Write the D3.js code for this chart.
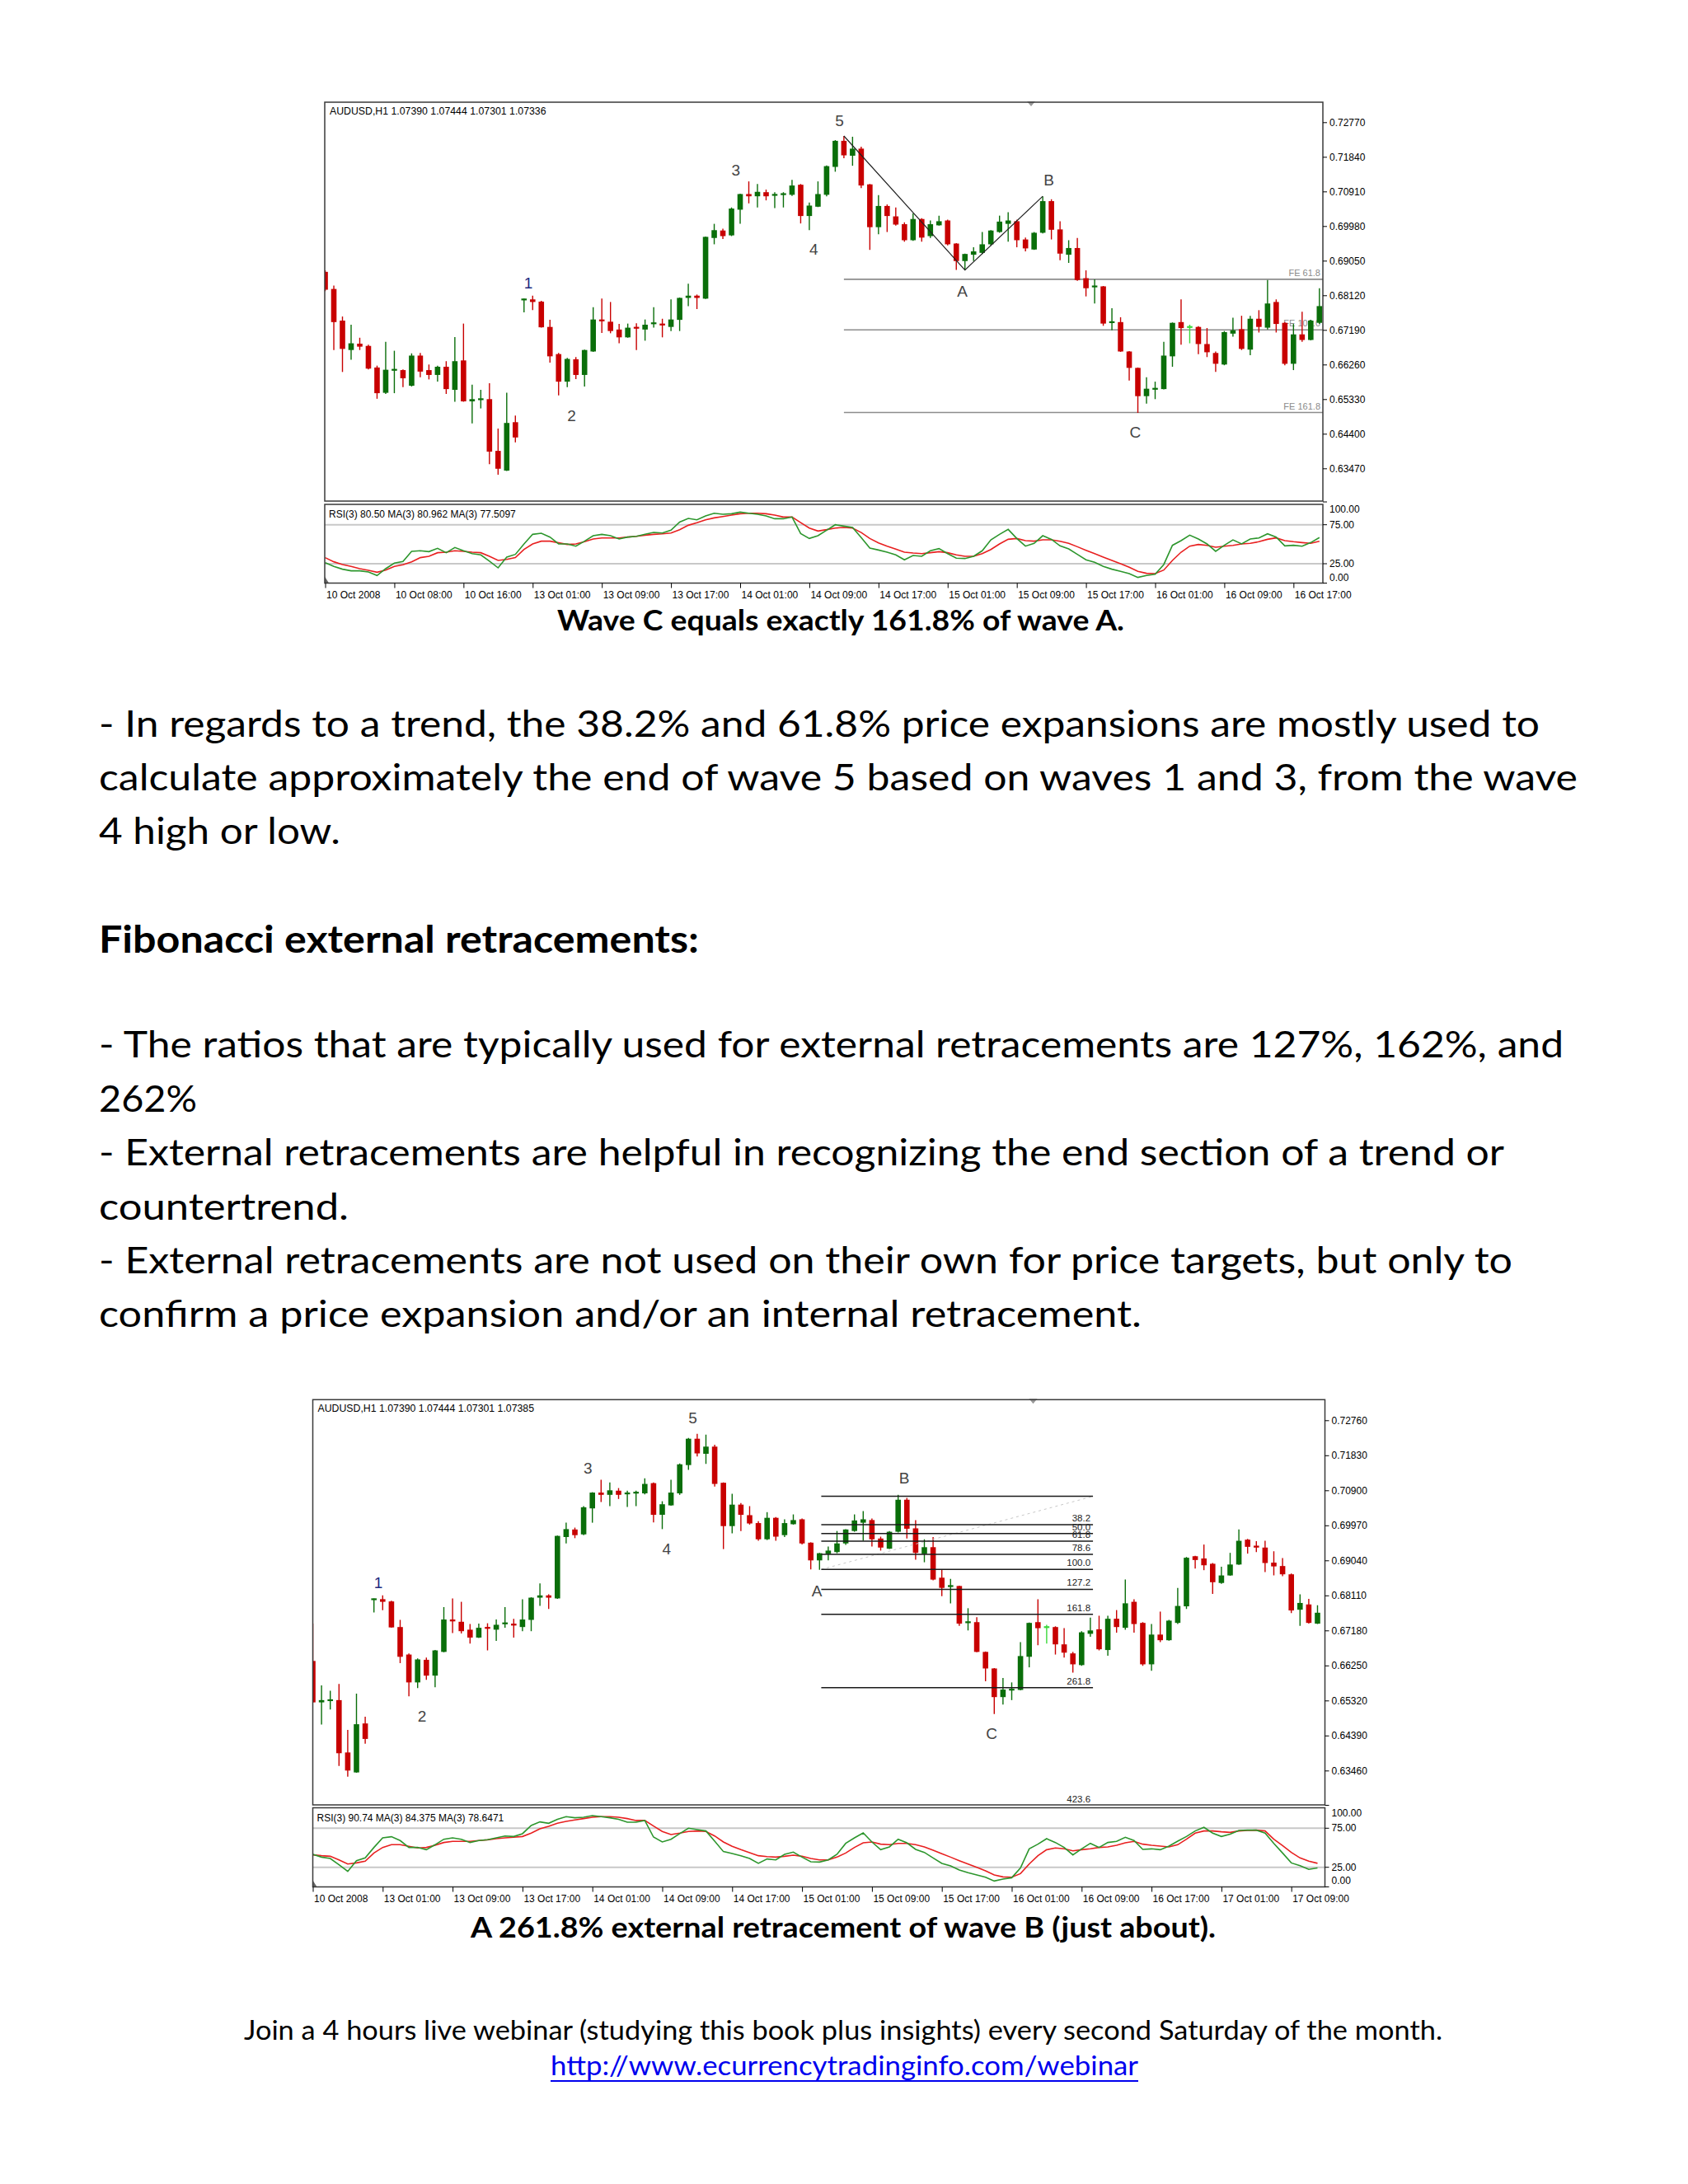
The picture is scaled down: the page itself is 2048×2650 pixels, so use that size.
<!DOCTYPE html>
<html><head><meta charset="utf-8">
<script src="https://cdn.jsdelivr.net/npm/d3@7"></script>
<style>html,body{margin:0;padding:0;background:#fff}svg{display:block}</style>
</head><body>
<svg id="page" width="2048" height="2650" xmlns="http://www.w3.org/2000/svg"></svg>
<script>
// ---------------- DATA (AUDUSD H1, bar index 0 = 10 Oct 2008 00:00) ----------------
const barOpen = [
0.6875,0.6829,0.6744,0.6665,0.6682,0.6676,0.6618,0.6550,0.6609,0.6611,
0.6569,0.6650,0.6611,0.6598,0.6620,0.6558,0.6637,0.6527,0.6530,0.6533,
0.6394,0.6341,0.6471,0.6797,0.6801,0.6795,0.6727,0.6654,0.6580,0.6640,
0.6598,0.6661,0.6747,0.6741,0.6720,0.6699,0.6725,0.6720,0.6734,0.6736,
0.6727,0.6746,0.6805,0.6811,0.6803,0.6966,0.6986,0.6973,0.7042,0.7084,
0.7078,0.7089,0.7079,0.7081,0.7082,0.7109,0.7025,0.7050,0.7082,0.7157,
0.7227,0.7187,0.7206,0.7110,0.6995,0.7052,0.7024,0.7003,0.6960,0.7017,
0.6971,0.7000,0.7013,0.6951,0.6904,0.6921,0.6926,0.6949,0.6982,0.7004,
0.7011,0.6962,0.6935,0.6980,0.7065,0.6989,0.6921,0.6939,0.6858,0.6832,
0.6836,0.6738,0.6740,0.6661,0.6617,0.6541,0.6558,0.6560,0.6648,0.6740,
0.6725,0.6727,0.6681,0.6657,0.6626,0.6709,0.6721,0.6666,0.6749,0.6725,
0.6794,0.6738,0.6628,0.6707,0.6692,0.6738,0.6782,0.6915,0.6909,0.6895,
0.6844,0.6864,0.6893,0.6959,0.6943,0.6938,0.6898,0.6889,0.6867,0.6773,0.6787,0.6736];
const barHigh = [
0.6879,0.6838,0.6755,0.6733,0.6698,0.6679,0.6623,0.6687,0.6663,0.6613,
0.6656,0.6657,0.6626,0.6623,0.6635,0.6700,0.6736,0.6572,0.6558,0.6576,
0.6454,0.6550,0.6489,0.6803,0.6811,0.6797,0.6746,0.6657,0.6644,0.6646,
0.6666,0.6780,0.6803,0.6794,0.6735,0.6736,0.6737,0.6747,0.6780,0.6749,
0.6801,0.6806,0.6843,0.6814,0.6970,0.7004,0.6991,0.7048,0.7085,0.7118,
0.7111,0.7096,0.7089,0.7089,0.7122,0.7111,0.7061,0.7118,0.7161,0.7229,
0.7240,0.7238,0.7211,0.7111,0.7081,0.7056,0.7048,0.7008,0.7032,0.7019,
0.7013,0.7026,0.7015,0.6952,0.6924,0.6941,0.6982,0.6987,0.7026,0.7035,
0.7015,0.6967,0.6982,0.7078,0.7070,0.7011,0.6960,0.6966,0.6879,0.6855,
0.6837,0.6777,0.6753,0.6662,0.6618,0.6592,0.6580,0.6687,0.6739,0.6801,
0.6733,0.6729,0.6724,0.6661,0.6716,0.6752,0.6757,0.6757,0.6772,0.6853,
0.6801,0.6740,0.6735,0.6768,0.6746,0.6831,0.6913,0.6916,0.6946,0.6897,
0.6887,0.6924,0.6986,0.6961,0.6955,0.6956,0.6928,0.6910,0.6869,0.6814,0.6802,0.6785];
const barLow = [
0.6823,0.6665,0.6606,0.6639,0.6665,0.6613,0.6534,0.6547,0.6549,0.6565,
0.6567,0.6592,0.6586,0.6580,0.6547,0.6526,0.6526,0.6468,0.6508,0.6358,
0.6330,0.6340,0.6417,0.6766,0.6772,0.6725,0.6631,0.6543,0.6565,0.6587,
0.6567,0.6660,0.6711,0.6710,0.6683,0.6698,0.6665,0.6690,0.6725,0.6699,
0.6716,0.6716,0.6783,0.6775,0.6802,0.6949,0.6963,0.6971,0.7004,0.7059,
0.7048,0.7067,0.7046,0.7048,0.7079,0.7005,0.6987,0.7049,0.7078,0.7144,
0.7180,0.7160,0.7100,0.6934,0.6976,0.6982,0.6999,0.6956,0.6958,0.6956,
0.6966,0.6999,0.6946,0.6880,0.6879,0.6904,0.6923,0.6945,0.6980,0.6956,
0.6941,0.6930,0.6934,0.6978,0.6962,0.6906,0.6899,0.6851,0.6809,0.6790,
0.6730,0.6718,0.6660,0.6583,0.6496,0.6521,0.6533,0.6559,0.6620,0.6679,
0.6683,0.6654,0.6646,0.6606,0.6624,0.6701,0.6665,0.6651,0.6712,0.6720,
0.6712,0.6624,0.6611,0.6687,0.6691,0.6735,0.6775,0.6882,0.6878,0.6815,
0.6842,0.6863,0.6892,0.6922,0.6926,0.6873,0.6864,0.6862,0.6764,0.6730,0.6736,0.6735];
const barClose = [
0.6827,0.6740,0.6668,0.6683,0.6674,0.6615,0.6549,0.6612,0.6612,0.6589,
0.6650,0.6607,0.6598,0.6620,0.6560,0.6635,0.6527,0.6533,0.6533,0.6392,
0.6346,0.6469,0.6430,0.6801,0.6794,0.6726,0.6648,0.6580,0.6641,0.6598,
0.6665,0.6747,0.6742,0.6716,0.6699,0.6725,0.6722,0.6733,0.6737,0.6731,
0.6747,0.6805,0.6811,0.6805,0.6969,0.6987,0.6971,0.7045,0.7084,0.7078,
0.7090,0.7078,0.7082,0.7084,0.7107,0.7025,0.7053,0.7084,0.7159,0.7227,
0.7188,0.7206,0.7107,0.6995,0.7052,0.7025,0.7002,0.6960,0.7017,0.6967,
0.7003,0.7011,0.6949,0.6904,0.6923,0.6930,0.6949,0.6986,0.7010,0.7013,
0.6960,0.6938,0.6980,0.7065,0.6988,0.6924,0.6939,0.6853,0.6831,0.6836,
0.6736,0.6740,0.6661,0.6617,0.6541,0.6561,0.6561,0.6650,0.6738,0.6724,
0.6727,0.6681,0.6659,0.6628,0.6713,0.6718,0.6668,0.6749,0.6727,0.6790,
0.6735,0.6628,0.6707,0.6692,0.6744,0.6783,0.6911,0.6905,0.6891,0.6846,
0.6864,0.6893,0.6956,0.6940,0.6938,0.6897,0.6888,0.6867,0.6771,0.6791,0.6738,0.6765];
const highlightBars = [100];

const rsiValues = [
26.4,21.5,18.0,15.9,15.9,14.5,9.9,18.7,25.7,27.8,
40.9,41.6,40.5,44.7,39.1,45.8,41.6,38.0,36.3,28.2,
19.7,33.5,37.0,50.4,62.7,64.1,59.2,50.4,50.4,47.5,
53.9,60.9,62.7,60.9,56.7,59.2,60.2,62.7,65.1,64.4,
68.0,78.5,83.1,81.3,86.3,89.8,88.4,89.1,91.2,89.8,
88.4,86.3,82.7,82.7,84.9,63.7,57.4,60.9,68.0,75.0,
73.2,71.5,58.5,45.1,42.6,39.8,36.3,30.0,35.6,34.5,
41.6,44.4,38.0,32.1,31.7,34.5,41.6,55.6,62.7,69.0,
57.4,47.5,51.1,60.9,56.3,47.9,44.0,37.0,30.0,26.8,
21.5,18.0,15.2,12.3,7.4,9.9,11.6,24.0,48.6,54.6,
61.6,56.7,50.4,40.9,48.6,55.6,50.4,56.7,58.1,63.4,
59.2,47.9,48.6,47.5,52.1,58.5,64.4,71.5,76.1,68.7,
64.4,67.3,72.2,72.5,72.5,68.7,55.6,43.3,30.6,27.0,22.4,24.2];
const rsiMA = [
32.8,27.5,24.0,21.5,18.7,16.6,14.1,16.9,21.5,23.6,
27.5,32.8,34.5,39.1,39.8,41.6,40.9,39.8,39.1,34.5,
29.2,30.6,32.8,43.3,50.4,53.9,53.9,51.8,49.7,50.4,
53.2,56.7,58.1,58.1,58.1,59.2,60.2,61.6,62.7,63.4,
64.4,68.7,74.3,77.5,81.3,83.8,85.6,87.3,89.1,89.8,
89.8,89.1,87.3,84.9,84.9,77.8,70.8,66.9,68.7,70.8,
71.5,70.8,65.1,57.4,51.8,47.5,43.7,39.8,38.7,38.0,
39.1,40.5,39.1,36.3,34.5,34.5,38.0,43.3,50.4,56.3,
57.4,54.6,53.9,55.6,55.6,53.9,51.1,46.8,42.3,38.0,
33.5,29.2,25.0,20.4,15.2,12.7,12.3,16.9,29.2,39.8,
47.5,49.7,48.6,46.1,47.5,48.6,50.4,51.1,53.2,56.3,
58.1,54.6,53.2,52.1,51.1,53.9,61.0,68.7,71.5,71.5,
70.4,69.7,71.5,72.2,72.5,71.5,60.9,52.8,44.0,37.0,32.8,30.1];

const waveLabels = ["1","2","3","4","5","A","B","C"];
const waveLabelBar = [23.5, 28.5, 47.5, 56.5, 59.5, 73.7, 83.7, 93.7];
const waveLabelPrice = [0.6845, 0.6489, 0.7148, 0.6935, 0.7282, 0.6822, 0.7122, 0.6444];

const zigzagBar = [60, 74, 83];
const zigzagPrice = [0.7240, 0.6880, 0.7078];

const feLabels = ["FE 61.8", "FE 100.0", "FE 161.8"];
const fePrices = [0.6855, 0.6719, 0.6497];
const feStartBar = 60;

const fibLabels = ["", "38.2", "50.0", "61.8", "78.6", "100.0", "127.2", "161.8", "261.8", "423.6"];
const fibPrices = [0.7074, 0.6999, 0.6975, 0.6955, 0.6920, 0.6880, 0.6827, 0.6761, 0.6566, 0.6252];
const fibStartBar = 74.2, fibEndBar = 105.3;
const fibTrendBar = [74.2, 105.3];
const fibTrendPrice = [0.6880, 0.7074];

const chart1PriceTicks = [0.72770,0.71840,0.70910,0.69980,0.69050,0.68120,0.67190,0.66260,0.65330,0.64400,0.63470];
const chart2PriceTicks = [0.72760,0.71830,0.70900,0.69970,0.69040,0.68110,0.67180,0.66250,0.65320,0.64390,0.63460];
const rsiLevels = [75, 25];
const rsiTickValues = [100, 75, 25, 0];
const chart1TimeBars = [0,8,16,24,32,40,48,56,64,72,80,88,96,104,112];
const chart1TimeLabels = ["10 Oct 2008","10 Oct 08:00","10 Oct 16:00","13 Oct 01:00","13 Oct 09:00","13 Oct 17:00","14 Oct 01:00","14 Oct 09:00","14 Oct 17:00","15 Oct 01:00","15 Oct 09:00","15 Oct 17:00","16 Oct 01:00","16 Oct 09:00","16 Oct 17:00"];
const chart2TimeBars = [16,24,32,40,48,56,64,72,80,88,96,104,112,120,128];
const chart2TimeLabels = ["10 Oct 2008","13 Oct 01:00","13 Oct 09:00","13 Oct 17:00","14 Oct 01:00","14 Oct 09:00","14 Oct 17:00","15 Oct 01:00","15 Oct 09:00","15 Oct 17:00","16 Oct 01:00","16 Oct 09:00","16 Oct 17:00","17 Oct 01:00","17 Oct 09:00"];

const chart1Header = "AUDUSD,H1  1.07390 1.07444 1.07301 1.07336";
const chart1RsiHeader = "RSI(3) 80.50 MA(3) 80.962 MA(3) 77.5097";
const chart2Header = "AUDUSD,H1  1.07390 1.07444 1.07301 1.07385";
const chart2RsiHeader = "RSI(3) 90.74 MA(3) 84.375 MA(3) 78.6471";

// ---------------- DRAWING ----------------
const svg = d3.select("#page");
svg.append("rect").attr("width", 2048).attr("height", 2650).attr("fill", "#fff");
const defs = svg.append("defs");
const CF = "'Liberation Sans', Arial, sans-serif";
const GREEN = "#0a6e0a", RED = "#c80000", LIME = "#3ad83a";

function drawChart(cfg) {
  const x = d3.scaleLinear().domain(cfg.xDomain).range([cfg.left, cfg.right]);
  const y = d3.scaleLinear().domain(cfg.yDomain).range([cfg.mainBottom, cfg.mainTop]);
  const r = d3.scaleLinear().domain([0, 100]).range([cfg.rsiZero, cfg.rsiHundred]);
  const idx = d3.range(cfg.first, cfg.last + 1);
  const g = svg.append("g");

  defs.append("clipPath").attr("id", cfg.id + "m").append("rect")
    .attr("x", cfg.left).attr("y", cfg.mainTop).attr("width", cfg.right - cfg.left).attr("height", cfg.mainBottom - cfg.mainTop);
  defs.append("clipPath").attr("id", cfg.id + "r").append("rect")
    .attr("x", cfg.left).attr("y", cfg.rsiTop).attr("width", cfg.right - cfg.left).attr("height", cfg.rsiBottom - cfg.rsiTop);

  const main = g.append("g").attr("clip-path", `url(#${cfg.id}m)`);
  const col = i => highlightBars.includes(i) ? LIME : (barClose[i] >= barOpen[i] ? GREEN : RED);

  if (cfg.fe) {
    main.selectAll("line.fe").data(fePrices).join("line")
      .attr("x1", x(feStartBar)).attr("x2", cfg.right)
      .attr("y1", d => y(d)).attr("y2", d => y(d))
      .attr("stroke", "#8c8c8c").attr("stroke-width", 1.6);
    main.selectAll("text.fe").data(fePrices).join("text")
      .attr("x", cfg.right - 3).attr("y", d => y(d) - 4)
      .attr("text-anchor", "end").attr("font-family", CF).attr("font-size", 11).attr("fill", "#8a8a8a")
      .text((d, k) => feLabels[k]);
  }

  const cg = main.selectAll("g.c").data(idx).join("g");
  cg.append("line")
    .attr("x1", i => x(i)).attr("x2", i => x(i))
    .attr("y1", i => y(barHigh[i])).attr("y2", i => y(barLow[i]))
    .attr("stroke", col).attr("stroke-width", 1.4);
  cg.append("rect")
    .attr("x", i => x(i) - 3.3).attr("width", 6.6)
    .attr("y", i => Math.min(y(barOpen[i]), y(barClose[i])) - (Math.abs(y(barOpen[i]) - y(barClose[i])) < 2 ? 1 : 0))
    .attr("height", i => Math.max(2.2, Math.abs(y(barOpen[i]) - y(barClose[i]))))
    .attr("fill", col);

  if (cfg.zigzag) {
    main.append("path")
      .attr("d", d3.line().x((d, k) => x(zigzagBar[k])).y(d => y(d))(zigzagPrice))
      .attr("fill", "none").attr("stroke", "#222").attr("stroke-width", 1.2);
  }

  if (cfg.fib) {
    main.append("path")
      .attr("d", d3.line().x((d, k) => x(fibTrendBar[k])).y(d => y(d))(fibTrendPrice))
      .attr("fill", "none").attr("stroke", "#c8c8c8").attr("stroke-width", 1).attr("stroke-dasharray", "3,4");
    main.selectAll("line.fib").data(fibPrices).join("line")
      .attr("x1", x(fibStartBar)).attr("x2", x(fibEndBar))
      .attr("y1", d => y(d)).attr("y2", d => y(d))
      .attr("stroke", "#1a1a1a").attr("stroke-width", 1.5);
    main.selectAll("text.fib").data(fibPrices).join("text")
      .attr("x", x(fibEndBar) - 3).attr("y", d => y(d) - 4)
      .attr("text-anchor", "end").attr("font-family", CF).attr("font-size", 11.5).attr("fill", "#222")
      .text((d, k) => fibLabels[k]);
  }

  main.selectAll("text.w").data(waveLabels).join("text")
    .attr("x", (d, k) => x(waveLabelBar[k])).attr("y", (d, k) => y(waveLabelPrice[k]))
    .attr("text-anchor", "middle").attr("dominant-baseline", "central")
    .attr("font-family", CF).attr("font-size", 19)
    .attr("fill", d => d === "1" ? "#1f2a80" : "#444")
    .text(d => d);

  g.append("text").attr("x", cfg.left + 6).attr("y", cfg.mainTop + 14.5)
    .attr("font-family", CF).attr("font-size", 12.3).attr("fill", "#000").text(cfg.header);

  const sx = cfg.right - 354;
  g.append("path").attr("d", `M${sx - 5},${cfg.mainTop - 1}L${sx + 5},${cfg.mainTop - 1}L${sx},${cfg.mainTop + 5}Z`).attr("fill", "#999");

  g.append("rect").attr("x", cfg.left).attr("y", cfg.mainTop).attr("width", cfg.right - cfg.left).attr("height", cfg.mainBottom - cfg.mainTop)
    .attr("fill", "none").attr("stroke", "#3a3a3a").attr("stroke-width", 1.5);

  const ya = g.append("g").attr("transform", `translate(${cfg.right},0)`)
    .call(d3.axisRight(y).tickValues(cfg.priceTicks).tickFormat(d3.format(".5f")).tickSize(5).tickPadding(3));
  ya.select(".domain").remove();
  ya.selectAll("text").attr("font-family", CF).attr("font-size", 12).attr("fill", "#000");
  ya.selectAll("line").attr("stroke", "#000");

  const rg = g.append("g").attr("clip-path", `url(#${cfg.id}r)`);
  rg.selectAll("line.lv").data(rsiLevels).join("line")
    .attr("x1", cfg.left).attr("x2", cfg.right).attr("y1", d => r(d)).attr("y2", d => r(d))
    .attr("stroke", "#c8c8c8").attr("stroke-width", 2);
  rg.append("path").attr("d", d3.line().x(i => x(i)).y(i => r(rsiMA[i]))(idx))
    .attr("fill", "none").attr("stroke", "#e82020").attr("stroke-width", 1.6);
  rg.append("path").attr("d", d3.line().x(i => x(i)).y(i => r(rsiValues[i]))(idx))
    .attr("fill", "none").attr("stroke", "#2d962d").attr("stroke-width", 1.6);
  g.append("text").attr("x", cfg.left + 5).attr("y", cfg.rsiTop + 16)
    .attr("font-family", CF).attr("font-size", 12).attr("fill", "#000").text(cfg.rsiHeader);
  g.append("path").attr("d", `M${cfg.left},${cfg.rsiBottom - 8}L${cfg.left + 5},${cfg.rsiBottom}L${cfg.left},${cfg.rsiBottom}Z`).attr("fill", "#666");
  g.append("rect").attr("x", cfg.left).attr("y", cfg.rsiTop).attr("width", cfg.right - cfg.left).attr("height", cfg.rsiBottom - cfg.rsiTop)
    .attr("fill", "none").attr("stroke", "#3a3a3a").attr("stroke-width", 1.5);

  const ra = g.append("g").attr("transform", `translate(${cfg.right},0)`);
  ra.selectAll("line").data(rsiTickValues.filter(v => v === 75 || v === 25)).join("line")
    .attr("x1", 0).attr("x2", 5).attr("y1", d => r(d)).attr("y2", d => r(d)).attr("stroke", "#000");
  ra.append("line").attr("x1", 0).attr("x2", 5).attr("y1", cfg.rsiTop - 3).attr("y2", cfg.rsiTop - 3).attr("stroke", "#000");
  ra.append("line").attr("x1", 0).attr("x2", 5).attr("y1", cfg.rsiBottom).attr("y2", cfg.rsiBottom).attr("stroke", "#000");
  ra.selectAll("text").data(rsiTickValues).join("text")
    .attr("x", 8).attr("y", d => d === 100 ? r(d) + 5 : d === 0 ? r(d) - 7 : r(d))
    .attr("dominant-baseline", "central")
    .attr("font-family", CF).attr("font-size", 12).attr("fill", "#000")
    .text(d => d3.format(".2f")(d));

  const xa = g.append("g").attr("transform", `translate(0,${cfg.rsiBottom})`)
    .call(d3.axisBottom(x).tickValues(cfg.timeBars).tickFormat((d, k) => cfg.timeLabels[k]).tickSize(6).tickPadding(4));
  xa.select(".domain").remove();
  xa.selectAll("line").attr("stroke", "#000");
  xa.selectAll("text").attr("text-anchor", "start").attr("dx", 1).attr("font-family", CF).attr("font-size", 12).attr("fill", "#000");
}

drawChart({
  id: "c1", left: 394, right: 1605, mainTop: 124, mainBottom: 608, rsiTop: 612, rsiBottom: 707.5,
  xDomain: [-0.05, 115.4], yDomain: [0.62591, 0.73308], rsiZero: 707.65, rsiHundred: 613.05,
  first: 0, last: 115, priceTicks: chart1PriceTicks, timeBars: chart1TimeBars, timeLabels: chart1TimeLabels,
  header: chart1Header, rsiHeader: chart1RsiHeader, fe: true, zigzag: true, fib: false
});
drawChart({
  id: "c2", left: 379.5, right: 1607.5, mainTop: 1698.3, mainBottom: 2190, rsiTop: 2193.5, rsiBottom: 2289.5,
  xDomain: [16, 131.85], yDomain: [0.62548, 0.73307], rsiZero: 2289.4, rsiHundred: 2194.6,
  first: 16, last: 131, priceTicks: chart2PriceTicks, timeBars: chart2TimeBars, timeLabels: chart2TimeLabels,
  header: chart2Header, rsiHeader: chart2RsiHeader, fe: false, zigzag: false, fib: true
});

// ---------------- PAGE TEXT ----------------
const TF = "Lato, 'Open Sans', sans-serif";
function txt(str, x, y, size, weight, len, fill) {
  const t = svg.append("text").attr("x", x).attr("y", y).attr("font-family", TF)
    .attr("font-size", size).attr("font-weight", weight).attr("fill", fill || "#000").text(str);
  if (len) t.attr("textLength", len).attr("lengthAdjust", "spacingAndGlyphs");
  return t;
}
txt("Wave C equals exactly 161.8% of wave A.", 676, 765, 34, 700, 688);
const bodyLines = [
  ["- In regards to a trend, the 38.2% and 61.8% price expansions are mostly used to", 894, 1748, 400],
  ["calculate approximately the end of wave 5 based on waves 1 and 3, from the wave", 959, 1794, 400],
  ["4 high or low.", 1024, 293, 400],
  ["Fibonacci external retracements:", 1156, 728, 700],
  ["- The ratios that are typically used for external retracements are 127%, 162%, and", 1283, 1777, 400],
  ["262%", 1349, 119, 400],
  ["- External retracements are helpful in recognizing the end section of a trend or", 1414, 1705, 400],
  ["countertrend.", 1480, 303, 400],
  ["- External retracements are not used on their own for price targets, but only to", 1545, 1715, 400],
  ["confirm a price expansion and/or an internal retracement.", 1610, 1265, 400]
];
bodyLines.forEach(l => txt(l[0], 120, l[1], 45, l[3], l[2]));
txt("A 261.8% external retracement of wave B (just about).", 571, 2351, 34, 700, 904);
txt("Join a 4 hours live webinar (studying this book plus insights) every second Saturday of the month.", 296, 2475, 32, 400, 1454);
txt("http://www.ecurrencytradinginfo.com/webinar", 668, 2518, 32, 400, 713, "#0000ee");
svg.append("line").attr("x1", 668).attr("x2", 1381).attr("y1", 2525).attr("y2", 2525).attr("stroke", "#0000ee").attr("stroke-width", 2);
</script>
</body></html>
